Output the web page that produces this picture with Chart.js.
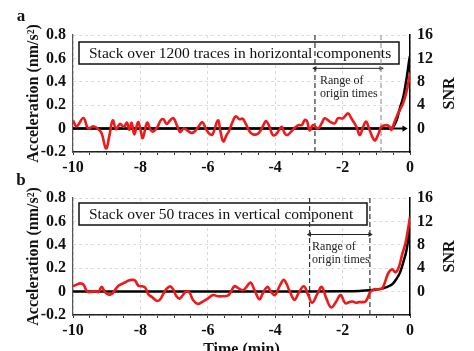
<!DOCTYPE html>
<html>
<head>
<meta charset="utf-8">
<script src="https://cdn.jsdelivr.net/npm/chart.js@4.4.0/dist/chart.umd.min.js"></script>
<style>
    html, body { margin: 0; padding: 0; background: #fff; overflow: hidden; }
    body { width: 474px; height: 351px; position: relative; }
    .panel { position: absolute; left: 0; width: 474px; }
    #panelA { top: 0; height: 175px; }
    #panelB { top: 165px; height: 200px; }
</style>
</head>
<body>
<div class="panel" id="panelA"><canvas id="chartA"></canvas></div>
<div class="panel" id="panelB"><canvas id="chartB"></canvas></div>
<script>
// panel a: stack over 1200 traces, horizontal components
const timesA = [
    -10.00, -9.89, -9.69, -9.55, -9.40, -9.25, -9.15, -9.02, -8.92, -8.82,
    -8.72, -8.61, -8.49, -8.40, -8.33, -8.26, -8.18, -8.07, -7.99, -7.93,
    -7.80, -7.70, -7.62, -7.50, -7.40, -7.32, -7.22, -7.12, -7.02, -6.92,
    -6.82, -6.72, -6.63, -6.50, -6.41, -6.28, -6.16, -6.06, -5.95, -5.86,
    -5.70, -5.62, -5.54, -5.45, -5.37, -5.26, -5.17, -5.06, -4.97, -4.87,
    -4.75, -4.65, -4.52, -4.42, -4.35, -4.27, -4.17, -4.07, -3.98, -3.88,
    -3.80, -3.72, -3.64, -3.54, -3.44, -3.31, -3.21, -3.12, -3.05, -2.98,
    -2.88, -2.73, -2.62, -2.53, -2.38, -2.23, -2.14, -1.99, -1.84, -1.74,
    -1.59, -1.49, -1.39, -1.30, -1.20, -1.05, -0.95, -0.85, -0.70, -0.62,
    -0.55, -0.48, -0.40, -0.30, -0.20, -0.10, -0.02, 0.00
];
const accA = [
    0.07, 0.02, 0.09, 0.0, 0.02, -0.005, -0.04, -0.17, -0.06, 0.07,
    -0.005, 0.04, 0.015, 0.05, -0.01, 0.05, -0.05, 0.055, -0.02, -0.08,
    0.05, -0.01, -0.025, 0.01, 0.07, 0.08, 0.04, 0.07, 0.09, 0.03,
    -0.03, 0.0, -0.01, -0.035, -0.03, 0.015, 0.055, 0.0, -0.045, -0.05,
    0.07, -0.03, -0.11, -0.06, -0.02, 0.06, 0.105, 0.08, 0.085, 0.04,
    -0.03, -0.05, -0.045, -0.01, 0.03, 0.065, 0.015, -0.055, -0.05, -0.01,
    0.015, -0.04, -0.055, -0.03, 0.0, 0.03, 0.03, 0.075, 0.06, -0.015,
    0.03, 0.0, 0.045, 0.088, 0.06, 0.045, 0.088, 0.088, 0.13, 0.088,
    0.016, -0.055, 0.016, 0.06, -0.012, -0.1, -0.055, 0.016, 0.03, 0.02,
    -0.01, 0.04, 0.1, 0.16, 0.22, 0.32, 0.44, 0.48
];
const snrTimesA = [-10, -0.6, -0.5, -0.4, -0.3, -0.2, -0.1, -0.02, 0];
const snrA = [0, 0, 0.3, 1.4, 3.5, 5.4, 8.6, 11.8, 12.4];
const rangeA = [-2.82, -0.86];
const arrowLevelA = 0.515;
const zeroArrowA = [-10, -0.17];

// panel b: stack over 50 traces, vertical component
const timesB = [
    -10.00, -9.89, -9.79, -9.69, -9.59, -9.49, -9.35, -9.25, -9.15, -9.05,
    -8.95, -8.85, -8.75, -8.65, -8.55, -8.45, -8.35, -8.25, -8.16, -8.06,
    -7.96, -7.86, -7.76, -7.66, -7.56, -7.49, -7.41, -7.31, -7.22, -7.12,
    -7.04, -6.94, -6.84, -6.74, -6.64, -6.54, -6.44, -6.30, -6.15, -6.00,
    -5.85, -5.70, -5.55, -5.41, -5.31, -5.21, -5.10, -4.96, -4.85, -4.73,
    -4.61, -4.47, -4.36, -4.23, -4.13, -4.01, -3.88, -3.74, -3.58, -3.43,
    -3.30, -3.15, -3.02, -2.90, -2.75, -2.62, -2.48, -2.34, -2.20, -2.06,
    -1.92, -1.80, -1.71, -1.60, -1.52, -1.42, -1.32, -1.25, -1.17, -1.05,
    -0.95, -0.82, -0.72, -0.63, -0.53, -0.43, -0.33, -0.23, -0.13, -0.06,
    0.00
];
const accB = [
    0.045, 0.06, 0.07, 0.06, 0.005, -0.005, 0.005, -0.005, 0.04, -0.005,
    -0.025, -0.02, 0.015, 0.05, 0.065, 0.08, 0.095, 0.1, 0.095, 0.05,
    0.045, 0.035, -0.025, -0.045, -0.07, -0.08, -0.065, -0.015, 0.025, 0.045,
    0.025, -0.035, -0.06, -0.03, 0.0, -0.01, -0.07, -0.105, -0.085, -0.06,
    -0.03, -0.04, -0.04, -0.035, 0.0, 0.046, 0.03, 0.012, 0.04, 0.078,
    0.01, -0.065, -0.01, 0.04, 0.0, -0.03, 0.04, 0.1, 0.01, -0.07,
    -0.01, 0.045, -0.03, -0.095, -0.02, 0.04, -0.06, -0.135, -0.09, -0.03,
    -0.1, -0.09, -0.085, -0.095, -0.09, -0.09, -0.085, -0.05, 0.0, 0.02,
    0.02, 0.03, 0.1, 0.165, 0.19, 0.165, 0.21, 0.32, 0.42, 0.53,
    0.64
];
const snrTimesB = [-10, -3, -2, -1.5, -1.2, -1.0, -0.8, -0.6, -0.5, -0.4, -0.3, -0.2, -0.1, -0.03, 0];
const snrB = [0, 0, 0.05, 0.12, 0.22, 0.35, 0.55, 1.0, 1.4, 2.2, 3.2, 5.0, 7.2, 10.0, 12.0];
const rangeB = [-2.98, -1.19];
const arrowLevelB = 0.488;

const SERIF = "'Liberation Serif', 'Times New Roman', serif";
Chart.defaults.font.family = SERIF;
Chart.defaults.color = "#111";

function points(xs, ys) {
    return xs.map((x, i) => ({ x: x, y: ys[i] }));
}

function decorPlugin(panel) {
    return {
        id: "decor",
        beforeDatasetsDraw(chart) {
            const ctx = chart.ctx;
            const area = chart.chartArea;
            const x0 = area.left + 6;
            const y0 = area.top + panel.boxTop;
            ctx.save();
            ctx.fillStyle = "#fff";
            ctx.fillRect(x0, y0, panel.boxWidth, 22);
            ctx.lineWidth = 1.5;
            ctx.strokeStyle = "#111";
            ctx.strokeRect(x0, y0, panel.boxWidth, 22);
            ctx.fillStyle = "#111";
            ctx.font = "15.5px " + SERIF;
            ctx.textBaseline = "middle";
            ctx.textAlign = "left";
            ctx.fillText(panel.boxText, x0 + 10, y0 + 12);
            ctx.restore();
        },
        afterDraw(chart) {
            const ctx = chart.ctx;
            const area = chart.chartArea;
            const xs = chart.scales.x;
            const ys = chart.scales.y;
            ctx.save();
            ctx.fillStyle = "#222";
            ctx.font = "12px " + SERIF;
            ctx.textBaseline = "middle";
            ctx.textAlign = "left";
            let tx = xs.getPixelForValue(panel.range[0]) + panel.textShift;
            let ty = ys.getPixelForValue(panel.arrowLevel);
            ctx.fillText("Range of", tx, ty + 12);
            ctx.fillText("origin times", tx, ty + 25);

            ctx.fillStyle = "#111";
            ctx.font = "bold 16px " + SERIF;
            ctx.textAlign = "center";
            ctx.translate(450, (area.top + area.bottom) / 2);
            ctx.rotate(-Math.PI / 2);
            ctx.fillText("SNR", 0, 0);
            ctx.restore();

            ctx.save();
            ctx.fillStyle = "#111";
            ctx.font = "bold 17px " + SERIF;
            ctx.textBaseline = "middle";
            ctx.textAlign = "center";
            ctx.fillText(panel.letter, 21, panel.letterY);
            ctx.restore();
        }
    };
}

function makePanel(canvasId, panel) {
    const tickFont = { family: SERIF, size: 16, weight: "bold" };
    let datasets = [
        {
            data: points(panel.times, panel.acc),
            yAxisID: "y",
            borderColor: "#ee1a1a",
            borderWidth: 2.6,
            pointRadius: 0,
            tension: 0.4,
            order: 0
        },
        {
            data: points(panel.snrTimes, panel.snr),
            yAxisID: "y1",
            borderColor: "#000",
            borderWidth: 2.5,
            pointRadius: 0,
            cubicInterpolationMode: "monotone",
            order: 1
        },
        {
            data: [{ x: panel.range[0], y: -0.2 }, { x: panel.range[0], y: 0.8 }],
            yAxisID: "y",
            borderColor: "#333",
            borderWidth: 1.2,
            borderDash: [5, 3],
            pointRadius: 0,
            order: 3
        },
        {
            data: [{ x: panel.range[1], y: -0.2 }, { x: panel.range[1], y: 0.8 }],
            yAxisID: "y",
            borderColor: panel.rightDashColor,
            borderWidth: 1.2,
            borderDash: [5, 3],
            pointRadius: 0,
            order: 3
        },
        {
            data: [{ x: panel.range[0], y: panel.arrowLevel }, { x: panel.range[1], y: panel.arrowLevel }],
            yAxisID: "y",
            borderColor: "#222",
            borderWidth: 1,
            pointStyle: "triangle",
            pointRadius: 2.8,
            pointRotation: [-90, 90],
            pointBackgroundColor: "#222",
            pointBorderWidth: 0,
            order: 3
        }
    ];
    if (panel.zeroArrow) {
        datasets.push({
            data: [{ x: panel.zeroArrow[0], y: 0 }, { x: panel.zeroArrow[1], y: 0 }],
            yAxisID: "y",
            borderColor: "#000",
            borderWidth: 2,
            pointStyle: "triangle",
            pointRadius: [0, 3.5],
            pointRotation: 90,
            pointBackgroundColor: "#000",
            pointBorderWidth: 0,
            order: 2
        });
    }

    return new Chart(document.getElementById(canvasId), {
        type: "line",
        data: { datasets: datasets },
        options: {
            responsive: true,
            maintainAspectRatio: false,
            animation: false,
            devicePixelRatio: 1,
            layout: { padding: { top: panel.padTop, left: 0, right: 0, bottom: 0 } },
            plugins: {
                legend: { display: false },
                tooltip: { enabled: false }
            },
            scales: {
                x: {
                    type: "linear",
                    min: -10,
                    max: 0,
                    ticks: {
                        stepSize: 0.5,
                        autoSkip: false,
                        maxRotation: 0,
                        padding: 3,
                        color: "#111",
                        font: tickFont,
                        callback: (v) => (Math.abs(v % 2) < 1e-6 ? String(Math.round(v)) : "")
                    },
                    grid: {
                        color: (c) => (c.tick && Math.abs(c.tick.value % 2) < 1e-6 ? "#dadada" : "rgba(0,0,0,0)"),
                        tickColor: "#333",
                        tickLength: 3
                    },
                    border: { color: "#222", width: 1.5, dash: [3, 3] },
                    title: {
                        display: panel.showXTitle,
                        text: "Time (min)",
                        color: "#111",
                        font: tickFont,
                        padding: { top: 0, bottom: 6 }
                    },
                    afterFit: (s) => { s.height = panel.xAxisHeight; }
                },
                y: {
                    position: "left",
                    min: -0.2,
                    max: 0.8,
                    ticks: {
                        stepSize: 0.2,
                        padding: 7,
                        color: "#111",
                        font: tickFont,
                        callback: (v) => String(Math.round(v * 10) / 10)
                    },
                    grid: { color: "#dadada", drawTicks: false },
                    border: { color: "#555", width: 1.2, dash: [3, 3] },
                    title: {
                        display: true,
                        text: "Acceleration (nm/s²)",
                        color: "#111",
                        font: tickFont,
                        padding: { top: 24, bottom: 0 }
                    },
                    afterFit: (s) => { s.width = 73; }
                },
                y1: {
                    position: "right",
                    min: -4,
                    max: 16,
                    ticks: {
                        stepSize: 4,
                        padding: 7,
                        color: "#111",
                        font: tickFont,
                        callback: (v) => (v < 0 ? "" : String(v))
                    },
                    grid: { drawOnChartArea: false, drawTicks: false },
                    border: { color: "#000", width: 1.5 },
                    afterFit: (s) => { s.width = 64; }
                }
            }
        },
        plugins: [decorPlugin(panel)]
    });
}

makePanel("chartA", {
    letter: "a",
    letterY: 17,
    times: timesA,
    acc: accA,
    snrTimes: snrTimesA,
    snr: snrA,
    range: rangeA,
    arrowLevel: arrowLevelA,
    zeroArrow: zeroArrowA,
    rightDashColor: "#999",
    textShift: 5,
    boxText: "Stack over 1200 traces in horizontal components",
    boxTop: 7,
    boxWidth: 320,
    padTop: 35,
    xAxisHeight: 23,
    showXTitle: false
});

makePanel("chartB", {
    letter: "b",
    letterY: 16,
    times: timesB,
    acc: accB,
    snrTimes: snrTimesB,
    snr: snrB,
    range: rangeB,
    arrowLevel: arrowLevelB,
    zeroArrow: null,
    rightDashColor: "#333",
    textShift: 2.5,
    boxText: "Stack over 50 traces in vertical component",
    boxTop: 5,
    boxWidth: 288,
    padTop: 33,
    xAxisHeight: 50,
    showXTitle: true
});
</script>
</body>
</html>
